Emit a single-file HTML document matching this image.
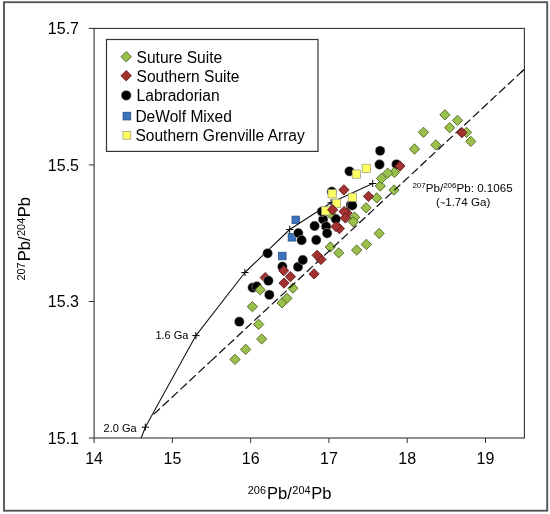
<!DOCTYPE html>
<html><head><meta charset="utf-8"><title>Pb isotope plot</title>
<style>
html,body{margin:0;padding:0;background:#fff;}
body{width:550px;height:514px;overflow:hidden;}
svg{display:block;}
text{font-family:"Liberation Sans",Arial,Helvetica,sans-serif;fill:#000;}
.t16{font-size:16px;}
.t11{font-size:11px;}
.sup{font-size:10.9px;}
.t17{font-size:16.5px;}
.sup7{font-size:8px;}
.t116{font-size:11.6px;}
</style></head><body>
<svg width="550" height="514" viewBox="0 0 550 514">
<rect x="0" y="0" width="550" height="514" fill="#fff"/>
<rect x="4" y="2.2" width="543.2" height="508.5" fill="none" stroke="#555" stroke-width="1.9"/>

<rect x="94.1" y="28.4" width="430.3" height="409.6" fill="none" stroke="#333" stroke-width="1.1"/>
<path d="M94.1 438.0V443.0" stroke="#333" stroke-width="1"/>
<text class="t16" x="94.1" y="464" text-anchor="middle">14</text>
<path d="M172.4 438.0V443.0" stroke="#333" stroke-width="1"/>
<text class="t16" x="172.4" y="464" text-anchor="middle">15</text>
<path d="M250.7 438.0V443.0" stroke="#333" stroke-width="1"/>
<text class="t16" x="250.7" y="464" text-anchor="middle">16</text>
<path d="M328.9 438.0V443.0" stroke="#333" stroke-width="1"/>
<text class="t16" x="328.9" y="464" text-anchor="middle">17</text>
<path d="M407.2 438.0V443.0" stroke="#333" stroke-width="1"/>
<text class="t16" x="407.2" y="464" text-anchor="middle">18</text>
<path d="M485.5 438.0V443.0" stroke="#333" stroke-width="1"/>
<text class="t16" x="485.5" y="464" text-anchor="middle">19</text>
<path d="M88.8 28.4H94.1" stroke="#333" stroke-width="1"/>
<text class="t16" x="79.0" y="34.2" text-anchor="end">15.7</text>
<path d="M88.8 164.9H94.1" stroke="#333" stroke-width="1"/>
<text class="t16" x="79.0" y="170.7" text-anchor="end">15.5</text>
<path d="M88.8 301.5H94.1" stroke="#333" stroke-width="1"/>
<text class="t16" x="79.0" y="307.3" text-anchor="end">15.3</text>
<path d="M88.8 438.0H94.1" stroke="#333" stroke-width="1"/>
<text class="t16" x="79.0" y="443.8" text-anchor="end">15.1</text>
<text class="t17" x="247.8" y="498.9"><tspan class="sup" dy="-4.9">206</tspan><tspan dy="4.9" dx="1.1">Pb/</tspan><tspan class="sup" dy="-4.9" dx="0.5">204</tspan><tspan dy="4.9" dx="0.6">Pb</tspan></text>
<text class="t17" transform="translate(30.3 280.5) rotate(-90)"><tspan class="sup" dy="-4.9">207</tspan><tspan dy="4.9" dx="1.1">Pb/</tspan><tspan class="sup" dy="-4.9" dx="0.5">204</tspan><tspan dy="4.9" dx="0.6">Pb</tspan></text>
<rect x="292.0" y="216.1" width="7.6" height="7.6" fill="#3b74bd" stroke="#27497c" stroke-width="0.7"/>
<rect x="288.1" y="233.5" width="7.6" height="7.6" fill="#3b74bd" stroke="#27497c" stroke-width="0.7"/>
<rect x="278.5" y="252.2" width="7.6" height="7.6" fill="#3b74bd" stroke="#27497c" stroke-width="0.7"/>
<path d="M141.2 438.0L145.3 427.2L195.9 335.6L244.9 272.5L289.7 229.5L331.0 202.8L372.7 183.5" stroke="#111" stroke-width="1.05" fill="none" stroke-linejoin="round"/>
<path d="M141.7 427.2H148.9M145.3 423.6V430.8" stroke="#000" stroke-width="1" fill="none"/>
<path d="M192.3 335.6H199.5M195.9 332.0V339.2" stroke="#000" stroke-width="1" fill="none"/>
<path d="M241.3 272.5H248.5M244.9 268.9V276.1" stroke="#000" stroke-width="1" fill="none"/>
<path d="M286.1 229.5H293.3M289.7 225.9V233.1" stroke="#000" stroke-width="1" fill="none"/>
<path d="M327.4 202.8H334.6M331.0 199.2V206.4" stroke="#000" stroke-width="1" fill="none"/>
<path d="M369.1 183.5H376.3M372.7 179.9V187.1" stroke="#000" stroke-width="1" fill="none"/>
<circle cx="239.3" cy="321.7" r="4.9" fill="#000" stroke="#c8c8c8" stroke-width="0.5"/>
<circle cx="252.6" cy="287.6" r="4.9" fill="#000" stroke="#c8c8c8" stroke-width="0.5"/>
<circle cx="256.8" cy="286.4" r="4.9" fill="#000" stroke="#c8c8c8" stroke-width="0.5"/>
<circle cx="269.3" cy="294.8" r="4.9" fill="#000" stroke="#c8c8c8" stroke-width="0.5"/>
<circle cx="267.6" cy="253.3" r="4.9" fill="#000" stroke="#c8c8c8" stroke-width="0.5"/>
<circle cx="298.3" cy="233.1" r="4.9" fill="#000" stroke="#c8c8c8" stroke-width="0.5"/>
<circle cx="282.4" cy="266.6" r="4.9" fill="#000" stroke="#c8c8c8" stroke-width="0.5"/>
<circle cx="298.0" cy="266.9" r="4.9" fill="#000" stroke="#c8c8c8" stroke-width="0.5"/>
<circle cx="302.8" cy="260.0" r="4.9" fill="#000" stroke="#c8c8c8" stroke-width="0.5"/>
<circle cx="301.6" cy="240.2" r="4.9" fill="#000" stroke="#c8c8c8" stroke-width="0.5"/>
<circle cx="316.2" cy="240.0" r="4.9" fill="#000" stroke="#c8c8c8" stroke-width="0.5"/>
<circle cx="314.6" cy="226.0" r="4.9" fill="#000" stroke="#c8c8c8" stroke-width="0.5"/>
<circle cx="323.1" cy="219.4" r="4.9" fill="#000" stroke="#c8c8c8" stroke-width="0.5"/>
<circle cx="326.1" cy="226.5" r="4.9" fill="#000" stroke="#c8c8c8" stroke-width="0.5"/>
<circle cx="327.1" cy="233.3" r="4.9" fill="#000" stroke="#c8c8c8" stroke-width="0.5"/>
<circle cx="321.8" cy="211.6" r="4.9" fill="#000" stroke="#c8c8c8" stroke-width="0.5"/>
<circle cx="335.8" cy="219.0" r="4.9" fill="#000" stroke="#c8c8c8" stroke-width="0.5"/>
<circle cx="331.8" cy="191.7" r="4.9" fill="#000" stroke="#c8c8c8" stroke-width="0.5"/>
<circle cx="350.8" cy="205.0" r="4.9" fill="#000" stroke="#c8c8c8" stroke-width="0.5"/>
<circle cx="352.3" cy="205.4" r="4.9" fill="#000" stroke="#c8c8c8" stroke-width="0.5"/>
<circle cx="349.5" cy="171.3" r="4.9" fill="#000" stroke="#c8c8c8" stroke-width="0.5"/>
<circle cx="380.1" cy="150.8" r="4.9" fill="#000" stroke="#c8c8c8" stroke-width="0.5"/>
<circle cx="379.5" cy="164.5" r="4.9" fill="#000" stroke="#c8c8c8" stroke-width="0.5"/>
<circle cx="396.5" cy="164.3" r="4.9" fill="#000" stroke="#c8c8c8" stroke-width="0.5"/>
<path d="M235.0 354.2L240.2 359.4L235.0 364.5L229.8 359.4Z" fill="#9ac14b" stroke="#4e6224" stroke-width="0.9"/>
<path d="M245.7 344.2L250.8 349.4L245.7 354.5L240.5 349.4Z" fill="#9ac14b" stroke="#4e6224" stroke-width="0.9"/>
<path d="M261.7 333.9L266.8 339.0L261.7 344.1L256.6 339.0Z" fill="#9ac14b" stroke="#4e6224" stroke-width="0.9"/>
<path d="M258.7 319.2L263.8 324.4L258.7 329.5L253.5 324.4Z" fill="#9ac14b" stroke="#4e6224" stroke-width="0.9"/>
<path d="M252.4 301.6L257.6 306.7L252.4 311.8L247.2 306.7Z" fill="#9ac14b" stroke="#4e6224" stroke-width="0.9"/>
<path d="M282.0 297.8L287.1 302.9L282.0 308.0L276.9 302.9Z" fill="#9ac14b" stroke="#4e6224" stroke-width="0.9"/>
<path d="M287.0 293.2L292.1 298.3L287.0 303.4L281.9 298.3Z" fill="#9ac14b" stroke="#4e6224" stroke-width="0.9"/>
<path d="M292.9 283.1L298.0 288.2L292.9 293.3L287.8 288.2Z" fill="#9ac14b" stroke="#4e6224" stroke-width="0.9"/>
<path d="M260.2 284.7L265.3 289.8L260.2 294.9L255.0 289.8Z" fill="#9ac14b" stroke="#4e6224" stroke-width="0.9"/>
<path d="M330.3 241.8L335.4 247.0L330.3 252.2L325.2 247.0Z" fill="#9ac14b" stroke="#4e6224" stroke-width="0.9"/>
<path d="M338.7 247.8L343.8 252.9L338.7 258.1L333.6 252.9Z" fill="#9ac14b" stroke="#4e6224" stroke-width="0.9"/>
<path d="M356.6 244.9L361.8 250.1L356.6 255.2L351.5 250.1Z" fill="#9ac14b" stroke="#4e6224" stroke-width="0.9"/>
<path d="M366.4 239.2L371.5 244.4L366.4 249.6L361.2 244.4Z" fill="#9ac14b" stroke="#4e6224" stroke-width="0.9"/>
<path d="M379.1 228.3L384.2 233.5L379.1 238.7L374.0 233.5Z" fill="#9ac14b" stroke="#4e6224" stroke-width="0.9"/>
<path d="M330.4 208.5L335.5 213.7L330.4 218.8L325.2 213.7Z" fill="#9ac14b" stroke="#4e6224" stroke-width="0.9"/>
<path d="M354.6 212.0L359.8 217.2L354.6 222.3L349.5 217.2Z" fill="#9ac14b" stroke="#4e6224" stroke-width="0.9"/>
<path d="M353.4 216.7L358.5 221.8L353.4 227.0L348.2 221.8Z" fill="#9ac14b" stroke="#4e6224" stroke-width="0.9"/>
<path d="M366.1 202.7L371.2 207.8L366.1 213.0L361.0 207.8Z" fill="#9ac14b" stroke="#4e6224" stroke-width="0.9"/>
<path d="M376.8 192.8L381.9 197.9L376.8 203.1L371.7 197.9Z" fill="#9ac14b" stroke="#4e6224" stroke-width="0.9"/>
<path d="M394.0 184.8L399.1 190.0L394.0 195.2L388.9 190.0Z" fill="#9ac14b" stroke="#4e6224" stroke-width="0.9"/>
<path d="M380.3 180.8L385.4 186.0L380.3 191.2L375.2 186.0Z" fill="#9ac14b" stroke="#4e6224" stroke-width="0.9"/>
<path d="M381.5 173.2L386.6 178.4L381.5 183.6L376.4 178.4Z" fill="#9ac14b" stroke="#4e6224" stroke-width="0.9"/>
<path d="M394.4 167.2L399.5 172.4L394.4 177.6L389.2 172.4Z" fill="#9ac14b" stroke="#4e6224" stroke-width="0.9"/>
<path d="M387.7 168.0L392.8 173.2L387.7 178.3L382.6 173.2Z" fill="#9ac14b" stroke="#4e6224" stroke-width="0.9"/>
<path d="M414.5 143.8L419.6 149.0L414.5 154.2L409.4 149.0Z" fill="#9ac14b" stroke="#4e6224" stroke-width="0.9"/>
<path d="M423.5 127.2L428.6 132.3L423.5 137.5L418.4 132.3Z" fill="#9ac14b" stroke="#4e6224" stroke-width="0.9"/>
<path d="M435.8 139.8L440.9 144.9L435.8 150.1L430.7 144.9Z" fill="#9ac14b" stroke="#4e6224" stroke-width="0.9"/>
<path d="M444.9 109.6L450.0 114.8L444.9 120.0L439.8 114.8Z" fill="#9ac14b" stroke="#4e6224" stroke-width="0.9"/>
<path d="M457.5 115.2L462.6 120.4L457.5 125.6L452.4 120.4Z" fill="#9ac14b" stroke="#4e6224" stroke-width="0.9"/>
<path d="M449.6 122.5L454.8 127.7L449.6 132.8L444.5 127.7Z" fill="#9ac14b" stroke="#4e6224" stroke-width="0.9"/>
<path d="M466.5 127.2L471.6 132.3L466.5 137.5L461.4 132.3Z" fill="#9ac14b" stroke="#4e6224" stroke-width="0.9"/>
<path d="M470.8 136.2L475.9 141.4L470.8 146.6L465.7 141.4Z" fill="#9ac14b" stroke="#4e6224" stroke-width="0.9"/>
<path d="M153.6 414.4L210.55 361.38" stroke="#111" stroke-width="1.25" stroke-dasharray="8.6 3.65" fill="none"/>
<path d="M210.55 361.38L524.4 69.2" stroke="#111" stroke-width="1.25" stroke-dasharray="8.3 3.65" fill="none"/>
<path d="M520.6 72.74L524.4 69.2" stroke="#111" stroke-width="1.25" fill="none"/>
<path d="M265.2 272.5L270.3 277.6L265.2 282.8L260.1 277.6Z" fill="#a33231" stroke="#5e1a1a" stroke-width="0.9"/>
<path d="M283.7 265.5L288.8 270.6L283.7 275.8L278.6 270.6Z" fill="#a33231" stroke="#5e1a1a" stroke-width="0.9"/>
<path d="M290.4 271.6L295.5 276.7L290.4 281.8L285.2 276.7Z" fill="#a33231" stroke="#5e1a1a" stroke-width="0.9"/>
<path d="M284.0 278.0L289.1 283.1L284.0 288.2L278.9 283.1Z" fill="#a33231" stroke="#5e1a1a" stroke-width="0.9"/>
<path d="M314.1 268.8L319.2 273.9L314.1 279.0L309.0 273.9Z" fill="#a33231" stroke="#5e1a1a" stroke-width="0.9"/>
<path d="M321.0 254.3L326.1 259.5L321.0 264.6L315.9 259.5Z" fill="#a33231" stroke="#5e1a1a" stroke-width="0.9"/>
<path d="M317.1 250.2L322.2 255.3L317.1 260.4L312.0 255.3Z" fill="#a33231" stroke="#5e1a1a" stroke-width="0.9"/>
<path d="M339.4 223.4L344.5 228.6L339.4 233.8L334.2 228.6Z" fill="#a33231" stroke="#5e1a1a" stroke-width="0.9"/>
<path d="M336.0 221.4L341.1 226.6L336.0 231.8L330.9 226.6Z" fill="#a33231" stroke="#5e1a1a" stroke-width="0.9"/>
<path d="M347.0 207.8L352.1 213.0L347.0 218.2L341.9 213.0Z" fill="#a33231" stroke="#5e1a1a" stroke-width="0.9"/>
<path d="M344.1 206.4L349.2 211.6L344.1 216.8L339.0 211.6Z" fill="#a33231" stroke="#5e1a1a" stroke-width="0.9"/>
<path d="M345.4 212.8L350.5 217.9L345.4 223.1L340.2 217.9Z" fill="#a33231" stroke="#5e1a1a" stroke-width="0.9"/>
<path d="M343.9 184.7L349.0 189.8L343.9 195.0L338.8 189.8Z" fill="#a33231" stroke="#5e1a1a" stroke-width="0.9"/>
<path d="M368.5 191.2L373.6 196.3L368.5 201.5L363.4 196.3Z" fill="#a33231" stroke="#5e1a1a" stroke-width="0.9"/>
<path d="M399.9 160.9L405.0 166.1L399.9 171.2L394.8 166.1Z" fill="#a33231" stroke="#5e1a1a" stroke-width="0.9"/>
<path d="M461.9 127.5L467.0 132.7L461.9 137.8L456.8 132.7Z" fill="#a33231" stroke="#5e1a1a" stroke-width="0.9"/>
<circle cx="268.4" cy="280.7" r="4.9" fill="#000" stroke="#c8c8c8" stroke-width="0.5"/>
<rect x="328.0" y="189.7" width="8.2" height="8.2" fill="#ffff62" stroke="#96967c" stroke-width="0.7"/>
<rect x="348.3" y="193.2" width="8.2" height="8.2" fill="#ffff62" stroke="#96967c" stroke-width="0.7"/>
<rect x="332.5" y="199.1" width="8.2" height="8.2" fill="#ffff62" stroke="#96967c" stroke-width="0.7"/>
<rect x="321.5" y="206.8" width="8.2" height="8.2" fill="#ffff62" stroke="#96967c" stroke-width="0.7"/>
<rect x="362.2" y="164.2" width="8.2" height="8.2" fill="#ffff62" stroke="#96967c" stroke-width="0.7"/>
<rect x="352.2" y="170.0" width="8.2" height="8.2" fill="#ffff62" stroke="#96967c" stroke-width="0.7"/>
<path d="M332.6 204.7L337.8 209.8L332.6 215.0L327.5 209.8Z" fill="#a33231" stroke="#5e1a1a" stroke-width="0.9"/>
<text class="t11" x="155.4" y="339.2">1.6 Ga</text>
<text class="t11" x="103.6" y="431.5">2.0 Ga</text>
<text class="t116" x="462.5" y="191.6" text-anchor="middle"><tspan class="sup7" dy="-3.6">207</tspan><tspan dy="3.6">Pb/</tspan><tspan class="sup7" dy="-3.6">206</tspan><tspan dy="3.6">Pb: 0.1065</tspan></text>
<text class="t116" x="463.2" y="206.2" text-anchor="middle">(<tspan font-size="9">~</tspan>1.74 Ga)</text>
<rect x="106.5" y="39.5" width="211.5" height="111.9" fill="#fff" stroke="#333" stroke-width="1.2"/>
<path d="M126.2 51.5L131.4 56.7L126.2 61.9L121.0 56.7Z" fill="#9ac14b" stroke="#4e6224" stroke-width="0.9"/>
<path d="M126.2 70.5L131.4 75.7L126.2 80.9L121.0 75.7Z" fill="#a33231" stroke="#5e1a1a" stroke-width="0.9"/>
<circle cx="126.2" cy="95.4" r="5.0" fill="#000" stroke="#c8c8c8" stroke-width="0.5"/>
<rect x="123.0" y="112.2" width="7.8" height="7.8" fill="#3b74bd" stroke="#27497c" stroke-width="0.7"/>
<rect x="123.0" y="131.4" width="7.8" height="7.8" fill="#ffff62" stroke="#96967c" stroke-width="0.7"/>
<text class="t16" x="136.6" y="62.6" textLength="85.6" lengthAdjust="spacingAndGlyphs">Suture Suite</text>
<text class="t16" x="136.6" y="81.6" textLength="102.9" lengthAdjust="spacingAndGlyphs">Southern Suite</text>
<text class="t16" x="136.6" y="101.0" textLength="83.0" lengthAdjust="spacingAndGlyphs">Labradorian</text>
<text class="t16" x="135.4" y="121.9" textLength="96.5" lengthAdjust="spacingAndGlyphs">DeWolf Mixed</text>
<text class="t16" x="135.4" y="140.6" textLength="169.4" lengthAdjust="spacingAndGlyphs">Southern Grenville Array</text>
</svg></body></html>
